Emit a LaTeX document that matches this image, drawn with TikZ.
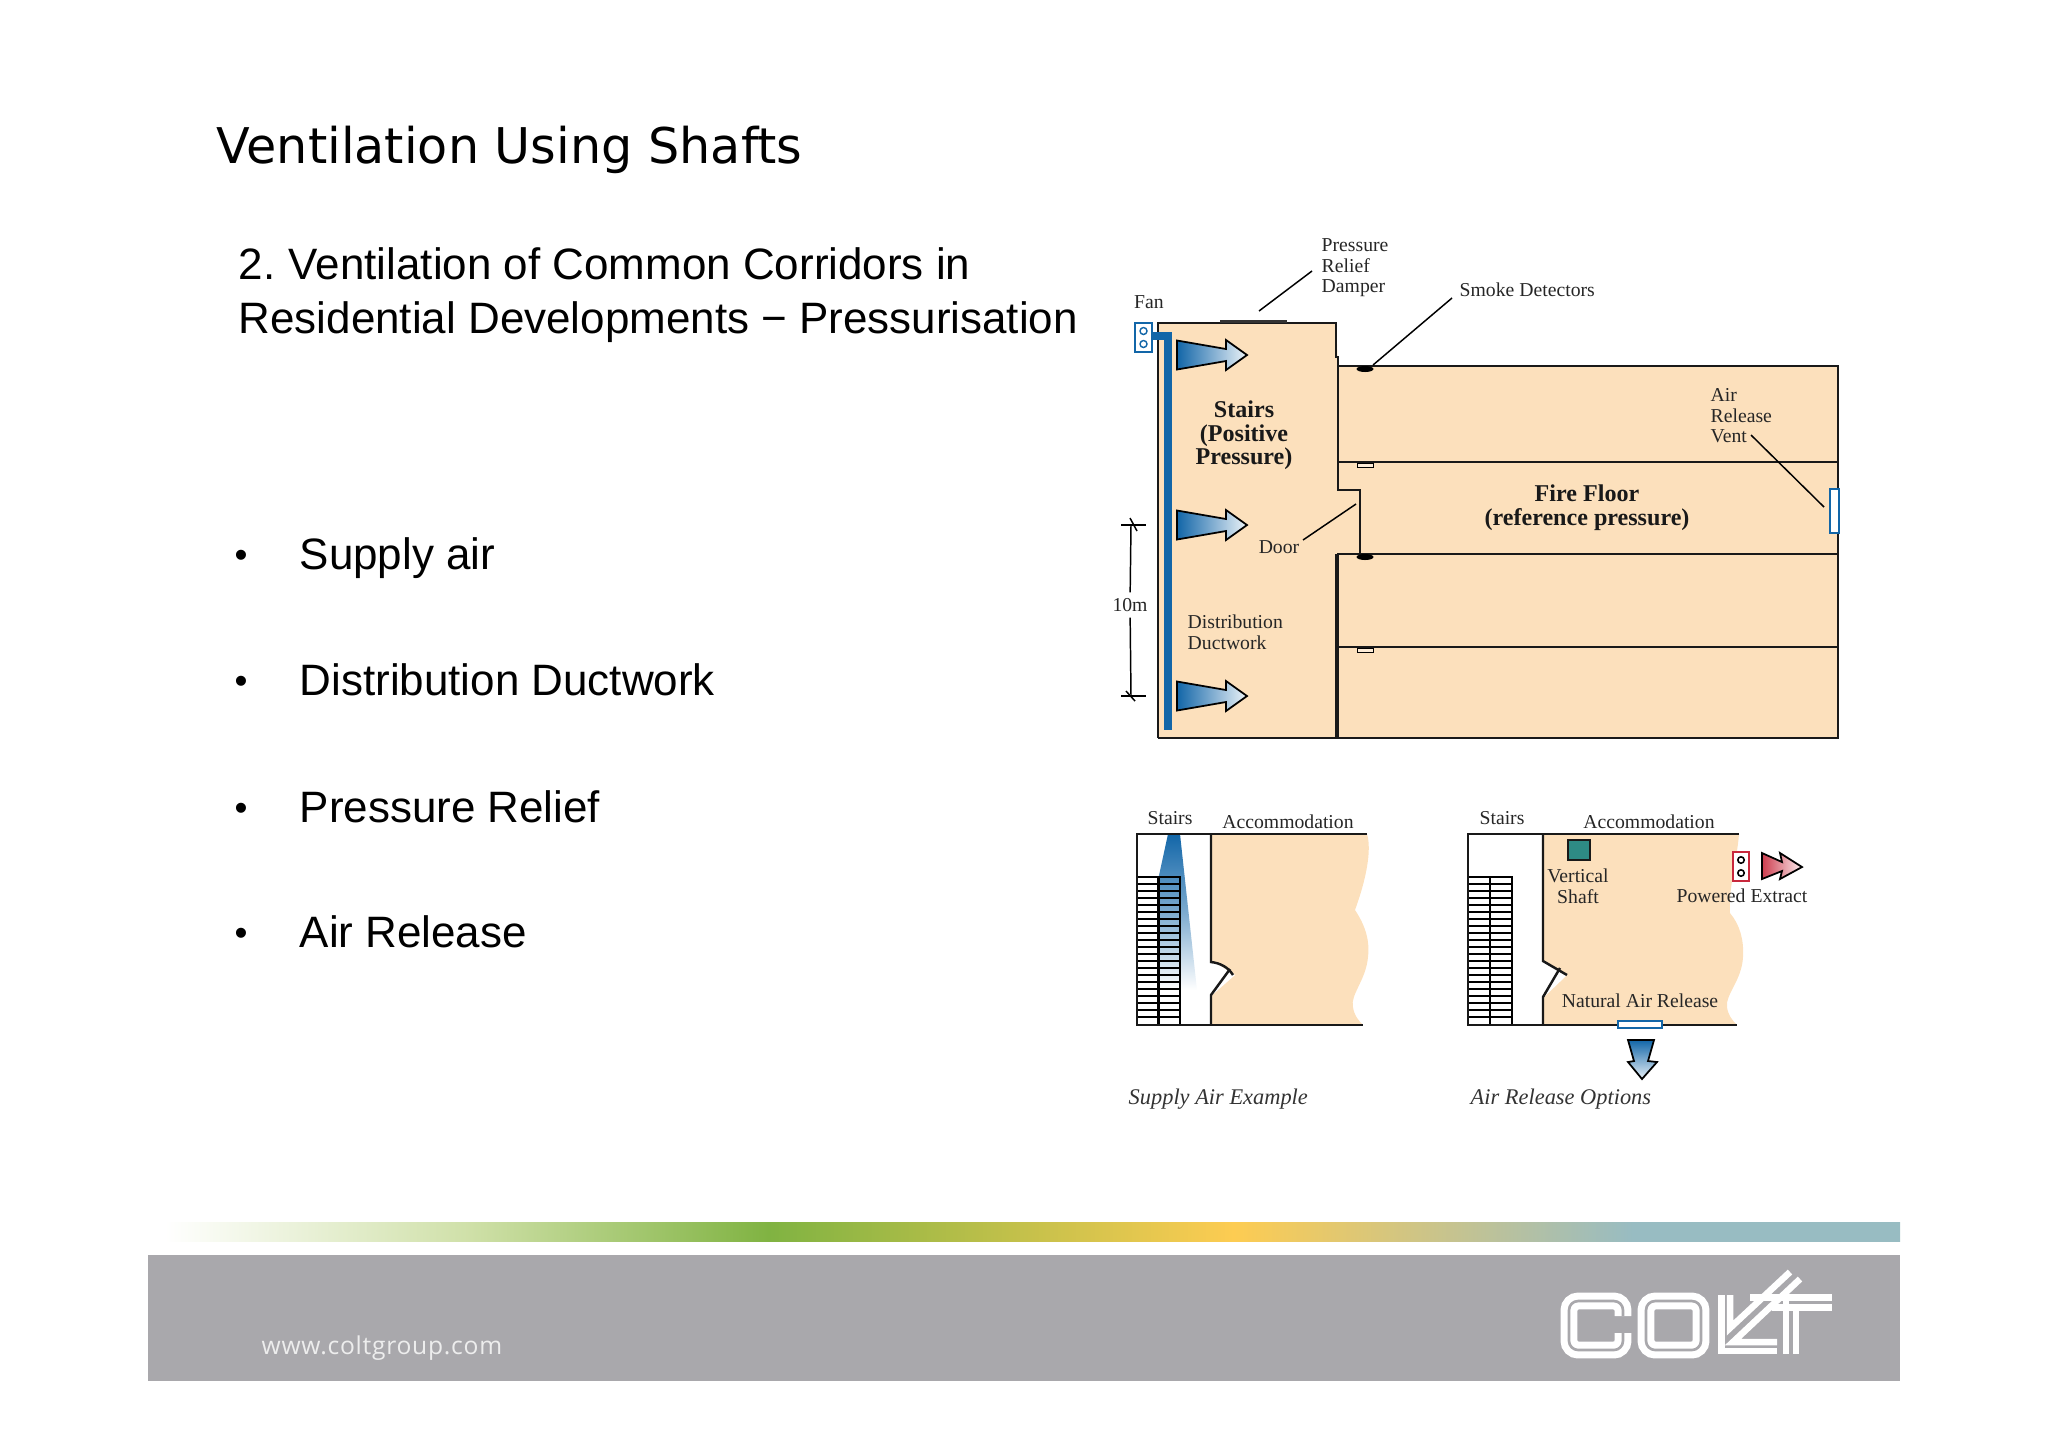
\documentclass[tikz,border=0pt]{standalone}
\usepackage{fontspec}
\setmainfont{Liberation Serif}
\newfontfamily\bodyfont{Liberation Sans}
\newfontfamily\titlefont{DejaVu Sans}
\newfontfamily\urlfont[LetterSpace=3]{Open Sans}
\definecolor{peach}{HTML}{FCE0BC}
\definecolor{ductblue}{HTML}{1266A8}
\definecolor{footgrey}{HTML}{A9A8AC}
\definecolor{shaftteal}{HTML}{2E8B85}
\definecolor{fanred}{HTML}{C8283C}
\definecolor{bandpale}{HTML}{CFE0A8}
\definecolor{bandgreen}{HTML}{80B342}
\definecolor{bandgold}{HTML}{FDCC52}
\definecolor{bandteal}{HTML}{98BCC2}
\pgfdeclarehorizontalshading{bandshade}{100bp}{color(0bp)=(white); color(25bp)=(white); color(33.8bp)=(bandpale); color(42.4bp)=(bandgreen); color(55.8bp)=(bandgold); color(67.3bp)=(bandteal); color(100bp)=(bandteal)}
\tikzset{
  px/.style={x=0.01cm,y=-0.01cm},
  wall/.style={draw=black!90,line width=.7pt},
  leader/.style={draw=black,line width=.42pt},
  lbl/.style={font=\fontsize{5.6}{5.83}\selectfont,inner sep=0pt,align=left,text=black!85},
  lblc/.style={lbl,align=center},
  boldlbl/.style={font=\fontsize{6.85}{6.7}\selectfont\bfseries,inner sep=0pt,align=center,text=black!90},
  itlbl/.style={font=\fontsize{6.37}{6.37}\selectfont\itshape,inner sep=0pt,anchor=west,text=black!80},
  airarrow/.style={draw=black,line width=.5pt,left color=ductblue,right color=ductblue!8},
  logoline/.style={draw=white,line width=4.8pt,rounded corners=2.6pt},
  logoslit/.style={draw=footgrey,line width=.75pt,rounded corners=2.6pt},
  logostripe/.style={draw=white,line width=1.85pt},
  bullettext/.style={font=\bodyfont\fontsize{12.5}{12.5}\selectfont,inner sep=0pt,anchor=base west},
  bulletdot/.style={font=\bodyfont\fontsize{10.5}{10.5}\selectfont,inner sep=0pt,anchor=base west},
}
\newcommand{\arrowat}[1]{\path[airarrow] (1177,#1-14.5) -- (1226,#1-6) -- (1226,#1-15) -- (1247,#1) -- (1226,#1+15) -- (1226,#1+6) -- (1177,#1+14.5) -- cycle;}
\newcommand{\stairsat}[2]{
  \draw[line width=.6pt] (#1,877) rectangle (#2,1025);
  \draw[line width=.6pt] ({(#1+#2)/2},877) -- ({(#1+#2)/2},1025);
  \foreach \ty in {884,891,...,1020} \draw[line width=.6pt] (#1,\ty) -- (#2,\ty);
}
\begin{document}
\begin{tikzpicture}[px]
  \useasboundingbox (0,0) rectangle (2048,1447);

  % Headings
  \node[font=\titlefont\fontsize{14}{14}\selectfont,inner sep=0pt,anchor=west] (title) at (216,150) {Ventilation Using Shafts};
  \node[font=\bodyfont\fontsize{12.5}{15.5}\selectfont,inner sep=0pt,anchor=west,align=left] (heading) at (238,295) {2.\hspace{-.8pt} Ventilation of Common Corridors in\\Residential Developments − Pressurisation};

  % Bullets
  \foreach \by/\btext in {569/Supply air,695/Distribution Ductwork,822/Pressure Relief,947/Air Release}{
    \node[bulletdot] at (234,\by-2) {•};
    \node[bullettext] at (299,\by) {\btext};
  }

  % Fire floor section
  \fill[peach] (1158,323) -- (1336,323) -- (1338,366) -- (1838,366) -- (1838,738) -- (1158,738) -- cycle;
  \draw[wall] (1158,738) -- (1158,323) -- (1336,323) -- (1336,357) -- (1338,357) -- (1338,490) -- (1360,490) -- (1360,554);
  \draw[wall] (1338,366) -- (1838,366) -- (1838,738) -- (1158,738);
  \draw[wall] (1360,554) -- (1838,554);
  \draw[wall] (1338,462) -- (1838,462);
  \draw[wall] (1338,647) -- (1838,647);
  \draw[draw=black!90,line width=1.15pt] (1337,554) -- (1337,738);
  \draw[wall] (1337,554) -- (1360,554);

  % Damper and detectors
  \fill[black!80] (1220,319.5) rectangle (1287,323);
  \fill[black] (1365,369) ellipse (8.5 and 3);
  \fill[black] (1365,557) ellipse (8.5 and 3);
  \draw[line width=.25pt,fill=peach!60] (1357,463) rectangle (1373,467);
  \draw[line width=.25pt,fill=peach!60] (1357,648) rectangle (1373,652);

  % Duct and fan
  \fill[ductblue] (1164,332) rectangle (1172,730);
  \fill[ductblue] (1152,332) rectangle (1172,340);
  \draw[ductblue,line width=.5pt,fill=white] (1135,323) rectangle (1152,352);
  \draw[ductblue,line width=.4pt] (1143.5,331) circle (3.5);
  \draw[ductblue,line width=.4pt] (1143.5,344) circle (3.5);
  \arrowat{355}
  \arrowat{525}
  \arrowat{696}

  % Vent
  \draw[ductblue,line width=.5pt,fill=white] (1830,489) rectangle (1839,533);

  % Labels upper section
  \node[lblc] (fan) at (1149,302) {Fan};
  \node[lbl,anchor=west] (damper) at (1321,268) {Pressure\\Relief\\Damper};
  \node[lbl,anchor=west] (smoke) at (1459,290) {Smoke Detectors};
  \node[boldlbl] (stairs) at (1244,435.5) {Stairs\\(Positive\\Pressure)};
  \node[boldlbl] (fire) at (1587,507.5) {Fire Floor\\(reference pressure)};
  \node[lblc] (door) at (1279,547) {Door};
  \node[lbl,anchor=west] (distrib) at (1187,632) {Distribution\\Ductwork};
  \node[lbl,anchor=west] (vent) at (1710,416) {Air\\Release\\Vent};
  \node[lblc,inner ysep=1.5pt] (ten) at (1130,605) {10m};

  % Leaders
  \coordinate (damperend) at (1259,311);
  \coordinate (smokeend) at (1373,365);
  \coordinate (doorend) at (1356,504);
  \coordinate (ventend) at (1824,507);
  \draw[leader] (1312,271) -- (damperend);
  \draw[leader] (1452,298) -- (smokeend);
  \draw[leader] (1303,540) -- (doorend);
  \draw[leader] (1751,435) -- (ventend);

  % Dimension
  \coordinate (dimtop) at (1131,525);
  \coordinate (dimbot) at (1131,696);
  \draw[leader] (dimtop) -- (ten) -- (dimbot);
  \draw[leader] (1121,525) -- (1146,525);
  \draw[leader] (1121,696) -- (1146,696);
  \draw[leader] (1130,518) -- (1137,531);
  \draw[leader] (1126,691) -- (1135,701);

  % Supply air example
  \fill[peach] (1211,834) -- (1367,834) .. controls (1372,850) and (1366,880) .. (1355,910) .. controls (1365,925) and (1370,940) .. (1368,957) .. controls (1366,980) and (1350,995) .. (1353,1007) .. controls (1354,1015) and (1358,1020) .. (1363,1025) -- (1211,1025) -- cycle;
  \fill[white] (1211,960) -- (1235,975) -- (1211,996) -- cycle;
  \shade[top color=ductblue,bottom color=white,middle color=ductblue!55] (1168,834) -- (1180,834) -- (1197,990) -- (1158,990) -- (1158,880) -- cycle;
  \stairsat{1137}{1180}
  \draw[wall] (1367,834) -- (1137,834) -- (1137,1025) -- (1363,1025);
  \draw[wall] (1211,834) -- (1211,962) .. controls (1220,963) and (1228,967) .. (1233,975);
  \draw[wall] (1230,969) -- (1211,995) -- (1211,1025);
  \node[lblc] (stairsa) at (1170,818) {Stairs};
  \node[lblc] (accoma) at (1288,822) {Accommodation};
  \node[itlbl] (supply) at (1128,1099) {Supply Air Example};

  % Air release options
  \fill[peach] (1543,834) -- (1739,834) .. controls (1737,860) and (1728,890) .. (1730,913) .. controls (1740,925) and (1744,940) .. (1743,957) .. controls (1742,980) and (1725,995) .. (1727,1007) .. controls (1728,1015) and (1732,1020) .. (1737,1025) -- (1543,1025) -- cycle;
  \fill[white] (1543,960) -- (1567,975) -- (1543,998) -- cycle;
  \stairsat{1468}{1512}
  \draw[wall] (1739,834) -- (1468,834) -- (1468,1025) -- (1737,1025);
  \draw[wall] (1543,834) -- (1543,961) -- (1567,975);
  \draw[wall] (1560,968) -- (1543,997) -- (1543,1025);
  \draw[black!90,line width=.5pt,fill=shaftteal] (1568,840) rectangle (1590,860);
  \draw[ductblue,line width=.5pt,fill=white] (1618,1021) rectangle (1662,1028);
  \draw[fanred,line width=.42pt,fill=white] (1733,852) rectangle (1749,881);
  \draw[black,line width=.45pt] (1741,860) circle (3.2);
  \draw[black,line width=.45pt] (1741,873) circle (3.2);
  \path[draw=black,line width=.5pt,left color=fanred!90,right color=fanred!8] (1762,853) -- (1782,862) -- (1780,853) -- (1802,867) -- (1780,879) -- (1782,871) -- (1762,879) -- cycle;
  \path[draw=black,line width=.5pt,top color=ductblue,bottom color=ductblue!10] (1628,1040) -- (1654,1040) -- (1648,1061) -- (1657,1062) -- (1642,1079) -- (1628,1062) -- (1634,1061) -- cycle;
  \node[lblc] (stairsb) at (1502,818) {Stairs};
  \node[lblc] (accomb) at (1649,822) {Accommodation};
  \node[lblc] (shaft) at (1578,886) {Vertical\\Shaft};
  \node[lblc] (extract) at (1742,896) {Powered Extract};
  \node[lblc] (natural) at (1640,1001) {Natural Air Release};
  \node[itlbl] (options) at (1470,1099) {Air Release Options};

  % Footer
  \shade[shading=bandshade] (165,1222) rectangle (1900,1241);
  \fill[footgrey] (148,1255) rectangle (1900,1381);
  \node[font=\urlfont\fontsize{7}{7}\selectfont,text=white!93!black,inner sep=0pt,anchor=west] (url) at (261,1348) {www.coltgroup.com};

  % Logo
  \draw[logoline] (1623,1316) -- (1623,1301) -- (1569,1301) -- (1569,1350) -- (1623,1350) -- (1623,1333);
  \draw[logoslit] (1623,1316) -- (1623,1301) -- (1569,1301) -- (1569,1350) -- (1623,1350) -- (1623,1333);
  \draw[logoline] (1646,1301) -- (1701,1301) -- (1701,1350) -- (1646,1350) -- cycle;
  \draw[logoslit] (1646,1301) -- (1701,1301) -- (1701,1350) -- (1646,1350) -- cycle;
  \draw[logostripe] (1721.5,1295) -- (1721.5,1351) -- (1777,1351);
  \draw[logostripe] (1730,1295) -- (1730,1328) -- (1790,1272);
  \draw[logostripe] (1800,1279) -- (1733,1342) -- (1777,1342);
  \draw[logostripe] (1750,1297.5) -- (1832,1297.5);
  \draw[logostripe] (1772,1307.5) -- (1832,1307.5);
  \draw[logostripe] (1786,1297.5) -- (1786,1354);
  \draw[logostripe] (1796,1307.5) -- (1796,1354);
\end{tikzpicture}
\end{document}
